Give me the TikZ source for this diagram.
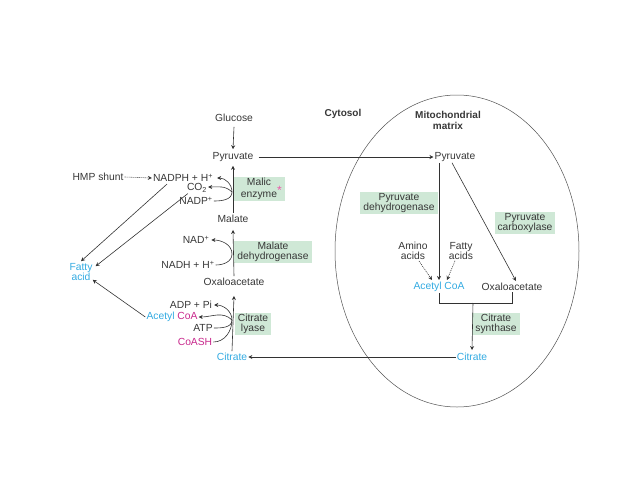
\documentclass[tikz,border=0pt]{standalone}
\usepackage{fontspec}
\setmainfont{Liberation Sans}
\usetikzlibrary{arrows.meta,calc}
\definecolor{txt}{RGB}{55,55,55}
\definecolor{lnc}{RGB}{50,50,50}
\definecolor{boxg}{RGB}{207,232,214}
\definecolor{cy}{RGB}{50,170,225}
\definecolor{mg}{RGB}{200,40,140}
\definecolor{pk}{RGB}{235,90,170}
\begin{document}
\begin{tikzpicture}[x=1pt,y=-1pt,
  every node/.style={text=txt,font=\fontsize{10.3}{10}\selectfont,inner sep=1pt},
  enz/.style={fill=boxg,align=center,inner xsep=3pt,inner ysep=1.5pt},
  hd/.style={font=\fontsize{10}{11}\selectfont\bfseries,align=center},
  arr/.style={draw=lnc,line width=0.6pt,-{Stealth[length=4pt,width=4pt]}},
  plain/.style={draw=lnc,line width=0.6pt},
  dots/.style={arr,dash pattern=on 1pt off 1pt}]
\useasboundingbox (0,0) rectangle (638,493);

% mitochondrion
\draw[draw=lnc!85,line width=0.5pt] (457,251) ellipse [x radius=122, y radius=156];

% headings
\node[hd] (cytosol) at (343,114) {Cytosol};
\node[hd] (mm) at (448,120) {Mitochondrial\\matrix};

% cytosol column
\node (glucose) at (234,118) {Glucose};
\node (pyr) at (233,157) {Pyruvate};
\node (malate) at (233,219) {Malate};
\node (coxa) at (234,282) {Oxaloacetate};
\node (ccit) at (232,357) {\textcolor{cy}{Citrate}};

\node[enz] (malic) at (259,189) {Malic\\\hphantom{\fontsize{12}{12}\selectfont *}enzyme\raisebox{3pt}{\textcolor{pk}{\fontsize{12}{12}\selectfont *}}};
\node[enz] (mdh) at (273,252) {Malate\\dehydrogenase};
\node[enz] (lyase) at (253,324) {Citrate\\lyase};

\node (hmp) at (98,177) {HMP shunt};
\node (nadph) at (183,178) {NADPH + H\textsuperscript{+}};
\node (co2) at (197,188) {CO\textsubscript{2}};
\node (nadp) at (196,201) {NADP\textsuperscript{+}};

\node (nad) at (196,240) {NAD\textsuperscript{+}};
\node (nadh) at (188,265) {NADH + H\textsuperscript{+}};

\node (adp) at (191,305) {ADP + Pi};
\node (cacoa) at (172,317) {\textcolor{cy}{Acetyl} \textcolor{mg}{CoA}};
\node (atp) at (203,328) {ATP};
\node (coash) at (195,342) {\textcolor{mg}{CoASH}};

\node[align=center] (fa) at (81,272) {\textcolor{cy}{Fatty}\\\textcolor{cy}{acid}};

% mitochondrial column
\node (mpyr) at (455,157) {Pyruvate};
\node[enz] (pdh) at (399,203) {Pyruvate\\dehydrogenase};
\node[enz] (pc) at (525,223) {Pyruvate\\carboxylase};
\node[align=center] (amino) at (413,251) {Amino\\acids};
\node[align=center] (fatty) at (461,251) {Fatty\\acids};
\node (macoa) at (439,287) {\textcolor{cy}{Acetyl CoA}};
\node (moxa) at (512,287) {Oxaloacetate};
\node[enz] (cs) at (496,324) {Citrate\\synthase};
\node (mcit) at (472,357) {\textcolor{cy}{Citrate}};

% cytosol arrows (yshift is in page direction: positive = up)
\draw[arr] ([yshift=-4]glucose.south) -- ([yshift=2]pyr.north);
\draw[arr] ([yshift=1]malate.north) -- ([yshift=-3]pyr.south);
\draw[arr] ([yshift=1]coxa.north) -- ([yshift=-6]malate.south);
\draw[arr] ([yshift=1]ccit.north) -- ([yshift=-9]coxa.south);

\draw[dots] (hmp.east) -- (nadph.west);

\coordinate (me) at (232,192);
\draw[plain] (nadp.east) to[out=0,in=-90] (me);
\draw[arr] (me) to[out=90,in=0] ([xshift=3]nadph.east);
\draw[arr] (me) to[out=135,in=0] ([yshift=1]co2.east);

\coordinate (md) at (232,254);
\draw[plain] (nadh.east) to[out=0,in=-90] (md);
\draw[arr] (md) to[out=90,in=0] ([xshift=1]nad.east);

\coordinate (cl) at (232,320);
\draw[plain] (atp.east) to[out=0,in=-90] (cl);
\draw[plain] (coash.east) to[out=0,in=-90] (cl);
\draw[arr] (cl) to[out=90,in=0] ([xshift=1]adp.east);
\draw[arr] (cl) to[out=135,in=0] (cacoa.east);

\draw[arr] ($(nadph.south)+(-16,1)$) -- ([yshift=1]fa.north);
\draw[arr] ($(co2.south west)+(2,0)$) -- ($(fa.north east)+(2,4)$);
\draw[arr] (cacoa.west) -- ($(fa.south east)+(-1,-2)$);

% between compartments
\draw[arr] ([xshift=4]pyr.east) -- (mpyr.west);
\draw[arr] (mcit.west) -- (ccit.east);

% mitochondrial arrows
\draw[arr] (mpyr.south -| macoa) -- ([yshift=1]macoa.north);
\draw[arr] ([xshift=-3]mpyr.south) -- ([xshift=4,yshift=1]moxa.north);
\draw[dots] ([xshift=6]amino.south) -- ([xshift=-7,yshift=1]macoa.north);
\draw[dots] ([xshift=-6]fatty.south) -- ([xshift=8,yshift=1]macoa.north);

\coordinate (bm) at (473,303);
\draw[plain] (macoa.south) -- (macoa.south |- bm) -- (moxa.south |- bm) -- (moxa.south);
\draw[arr] (bm) -- ([yshift=2]mcit.north);
\end{tikzpicture}
\end{document}
